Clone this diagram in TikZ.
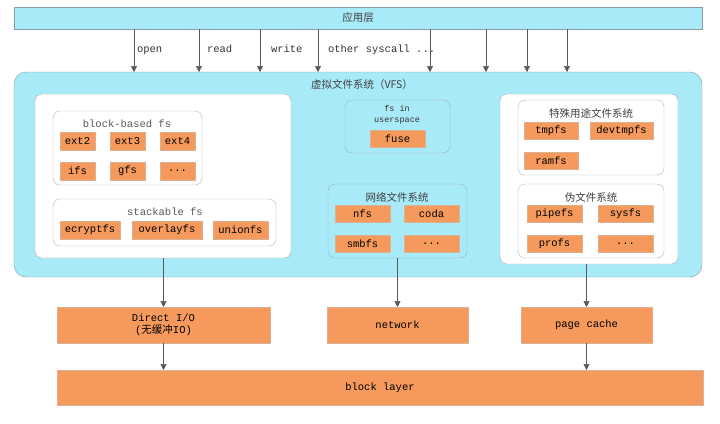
\documentclass[tikz,border=0pt]{standalone}
\usepackage{fontspec}
\setmonofont{Liberation Mono}
\newfontfamily\cjk{Noto Sans CJK SC}
\usetikzlibrary{arrows.meta,shadows}
\definecolor{cy}{HTML}{A8EAF7}
\definecolor{org}{HTML}{F59A5C}
\definecolor{bd}{HTML}{8A9BA3}
\begin{document}
\begin{tikzpicture}[x=1pt,y=-1pt,
  every node/.style={inner sep=0pt,outer sep=0pt,font=\ttfamily\fontsize{10.5}{12}\selectfont},
  cbox/.style={draw=bd,fill=cy,anchor=north west},
  wbox/.style={draw=bd!80,fill=white,rounded corners=7pt,anchor=north west},
  ob/.style={fill=org,draw=org!80!black!60,anchor=north west,drop shadow={opacity=0.25,shadow xshift=1pt,shadow yshift=-1pt}},
  arr/.style={draw=black!65,-{Triangle[width=6pt,length=6pt]},line width=0.6pt},
  lab/.style={font=\ttfamily\fontsize{10.5}{12}\selectfont,text=black!80},
  cn/.style={font=\cjk\fontsize{10.5}{12}\selectfont,text=black!75}]
\useasboundingbox (0,0) rectangle (720,423);
% app layer
\node[cbox,minimum width=688pt,minimum height=22pt] (app) at (14,7) {};
\node[cn] (appt) at (358,18) {应用层};
% VFS
\node[cbox,rounded corners=12pt,minimum width=688pt,minimum height=205pt] (vfs) at (14,72) {};
\node[cn] (vfst) at (362,85) {虚拟文件系统（VFS）};
% arrows
\foreach \x/\n in {134/a1,199/a2,260/a3,318/a4,430/a5,486/a6,527/a7,567/a8}{
  \coordinate (s\n) at (\x,29); \coordinate (e\n) at (\x,72);
  \draw[arr] (s\n) -- (e\n);}
\node[lab,anchor=base west] (lo) at (137,52) {open};
\node[lab,anchor=base west] (lr) at (207,52) {read};
\node[lab,anchor=base west] (lw) at (271,52) {write};
\node[lab,anchor=base west] (ls) at (328,52) {other syscall ...};
% left white
\node[wbox,minimum width=256pt,minimum height=164pt] (lw1) at (35,94) {};
\node[wbox,draw=bd!70,minimum width=149pt,minimum height=74pt] (bb) at (53,111) {};
\node[lab,text=black!65] (bbt) at (127,124) {block-based fs};
\node[ob,minimum width=35pt,minimum height=18pt] (e2) at (60,132) {ext2};
\node[ob,minimum width=35pt,minimum height=18pt] (e3) at (110,132) {ext3};
\node[ob,minimum width=35pt,minimum height=18pt] (e4) at (160,132) {ext4};
\node[ob,minimum width=35pt,minimum height=18pt] (ifs) at (60,162) {ifs};
\node[ob,minimum width=35pt,minimum height=18pt] (gfs) at (110,162) {gfs};
\node[ob,minimum width=35pt,minimum height=18pt] (d1) at (160,162) {...};
\node[wbox,draw=bd!70,minimum width=223pt,minimum height=47pt] (st) at (53,199) {};
\node[lab,text=black!65] (stt) at (165,212) {stackable fs};
\node[ob,minimum width=60pt,minimum height=18pt] (ec) at (60,221) {ecryptfs};
\node[ob,minimum width=70pt,minimum height=18pt] (ov) at (132,221) {overlayfs};
\node[ob,minimum width=55pt,minimum height=18pt] (un) at (213,221) {unionfs};
% fuse
\node[wbox,fill=cy,minimum width=105pt,minimum height=53pt] (fu) at (345,100) {};
\node[lab,font=\ttfamily\fontsize{8.5}{10}\selectfont] (fut) at (397,108) {fs in};
\node[lab,font=\ttfamily\fontsize{8.5}{10}\selectfont] (fut2) at (397,121) {userspace};
\node[ob,minimum width=55pt,minimum height=17pt] (fuse) at (370,130) {fuse};
% network fs
\node[wbox,fill=cy,minimum width=139pt,minimum height=74pt] (nf) at (328,184) {};
\node[cn] (nft) at (397,197) {网络文件系统};
\node[ob,minimum width=55pt,minimum height=17pt] (nfs) at (335,205) {nfs};
\node[ob,minimum width=55pt,minimum height=17pt] (coda) at (404,205) {coda};
\node[ob,minimum width=55pt,minimum height=17pt] (smb) at (335,235) {smbfs};
\node[ob,minimum width=55pt,minimum height=17pt] (d2) at (404,235) {...};
% right white
\node[wbox,minimum width=178pt,minimum height=170pt] (rw) at (500,94) {};
\node[wbox,draw=bd!70,minimum width=146pt,minimum height=75pt] (sp) at (518,100) {};
\node[cn] (spt) at (591,113) {特殊用途文件系统};
\node[ob,minimum width=54pt,minimum height=17pt] (tmp) at (524,122) {tmpfs};
\node[ob,minimum width=63pt,minimum height=17pt] (dev) at (590,122) {devtmpfs};
\node[ob,minimum width=54pt,minimum height=17pt] (ram) at (524,152) {ramfs};
\node[wbox,draw=bd!70,minimum width=146pt,minimum height=74pt] (ps) at (518,184) {};
\node[cn] (pst) at (591,197) {伪文件系统};
\node[ob,minimum width=55pt,minimum height=17pt] (pipe) at (527,205) {pipefs};
\node[ob,minimum width=55pt,minimum height=17pt] (sys) at (598,205) {sysfs};
\node[ob,minimum width=55pt,minimum height=17pt] (pro) at (527,235) {profs};
\node[ob,minimum width=55pt,minimum height=17pt] (d3) at (598,235) {...};
% lower boxes
\node[ob,minimum width=213pt,minimum height=36pt,align=center] (dio) at (57,307) {Direct I/O\\({\cjk 无缓冲}IO)};
\node[ob,minimum width=141pt,minimum height=36pt] (net) at (327,307) {network};
\node[ob,minimum width=131pt,minimum height=36pt] (pc) at (521,307) {page cache};
\node[ob,minimum width=646pt,minimum height=35pt] (bl) at (57,370) {block layer};
% connectors
\draw[arr] (lw1.south -| dio.north) -- (dio.north);
\draw[arr] (nf.south -| net.north) -- (net.north);
\draw[arr] (rw.south -| pc.north) -- (pc.north);
\draw[arr] (dio.south) -- (bl.north -| dio.south);
\draw[arr] (pc.south) -- (bl.north -| pc.south);
\end{tikzpicture}
\end{document}
